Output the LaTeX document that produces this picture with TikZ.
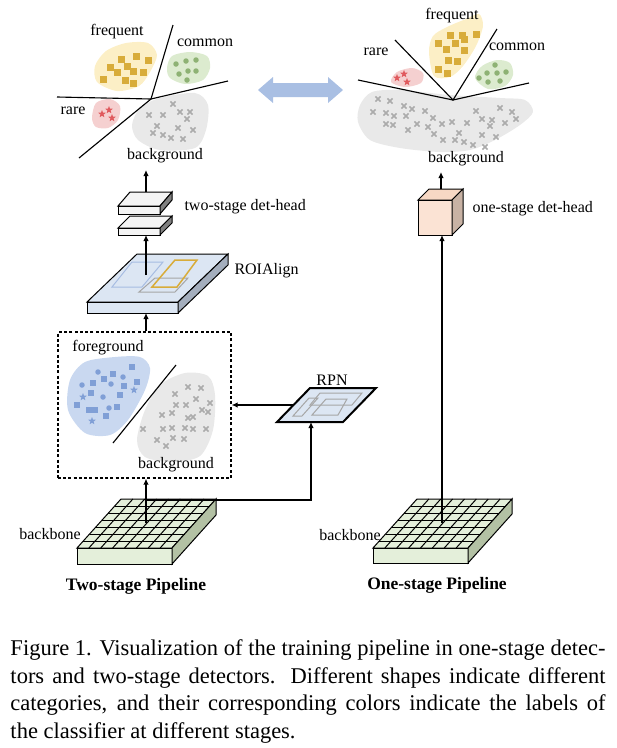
\documentclass[tikz,border=0pt]{standalone}
\usepackage{fontspec}
\setmainfont{Liberation Serif}
\usepackage{tikz}
\usetikzlibrary{arrows.meta}

\definecolor{freqfill}{HTML}{FCEFC6}
\definecolor{freqmark}{HTML}{D8AC3A}
\definecolor{comfill}{HTML}{DCEBCF}
\definecolor{commark}{HTML}{8EB274}
\definecolor{rarefill}{HTML}{F5D0D0}
\definecolor{raremark}{HTML}{E05A5E}
\definecolor{bgfill}{HTML}{E9E9E9}
\definecolor{bgmark}{HTML}{ABABAB}
\definecolor{fgfill}{HTML}{C9D8F0}
\definecolor{fgmark}{HTML}{809FD6}
\definecolor{swapblue}{HTML}{A9BFE3}
\definecolor{roitop}{HTML}{DCE6F3}
\definecolor{roiside}{HTML}{A4AEBD}
\definecolor{headtop}{HTML}{F4F4F4}
\definecolor{headside}{HTML}{808080}
\definecolor{cubetop}{HTML}{F7D8C4}
\definecolor{cubefront}{HTML}{FBE3D4}
\definecolor{cubeside}{HTML}{C8B2A4}
\definecolor{bbtop}{HTML}{E4EFDA}
\definecolor{bbside}{HTML}{B3C1A4}

% x, y, width, thickness, depth x, depth y, top, front, side
\newcommand{\cuboid}[9]{%
  \filldraw[fill=#7] (#1,#2) -- ++(#5,#6) -- ++(#3,0) -- (#1+#3,#2) -- cycle;
  \filldraw[fill=#8] (#1,#2) rectangle ++(#3,#4);
  \filldraw[fill=#9] (#1+#3,#2) -- ++(#5,#6) -- ++(0,#4) -- (#1+#3,#2+#4) -- cycle;}
\newcommand{\bbgrid}[2]{%
  \foreach \i in {1,...,7} \draw (#1+\i*95/8,#2) -- ++(44,-49);
  \foreach \j in {1,...,6} \draw (#1+\j*44/7,#2-\j*49/7) -- ++(95,0);}

\begin{document}
\begin{tikzpicture}[x=0.4pt,y=-0.4pt,
  lbl/.style={font=\fontsize{6.4}{7.5}\selectfont,inner sep=0pt},
  title/.style={font=\fontsize{7}{8}\selectfont\bfseries,inner sep=0pt},
  flow/.style={-{Latex[length=2.4pt,width=2.2pt]},line width=0.5pt},
  sepline/.style={line width=0.45pt},
  cross/.style={draw=bgmark,line width=0.6pt}]
\useasboundingbox (0,0) rectangle (617,748);

% left classifier
\fill[freqfill] plot[smooth cycle] coordinates {(97,82) (95,66) (106,51) (126,43) (148,43) (157,55) (150,72) (139,86) (117,91)};
\fill[comfill] plot[smooth cycle] coordinates {(167,68) (172,56) (190,52) (207,56) (210,68) (203,80) (185,84) (170,78)};
\fill[rarefill] plot[smooth cycle] coordinates {(92,118) (96,103) (110,99) (120,106) (118,120) (108,128) (96,127)};
\fill[bgfill] plot[smooth cycle] coordinates {(132,125) (140,108) (160,98) (195,93) (208,105) (206,130) (195,148) (160,150) (138,140)};
\foreach \x/\y in {136/56,148/60,121/59,127/66,110/67,117/72,133/71,143/72,103/79,125/80,133/83}
  \fill[freqmark] (\x-3.5,\y-3.5) rectangle ++(7,7);
\foreach \x/\y in {176/64,186/61,196/60,179/74,188/71,196/71,187/80}
  \fill[commark] (\x,\y) circle[radius=1.1pt];
\foreach \x/\y in {102/114,109/110,112/118}
  \fill[raremark,shift={(\x,\y)}] (270:4) \foreach \a in {0,...,4} {-- (306+72*\a:1.7) -- (342+72*\a:4)} -- cycle;
\foreach \x/\y in {173/104,149/115,163/115,180/112,190/112,187/119,157/126,178/128,193/130,153/133,163/135,171/138,183/139}
  \draw[cross,shift={(\x,\y)}] (-2.6,-2.6) -- (2.6,2.6) (-2.6,2.6) -- (2.6,-2.6);
\coordinate (cutL) at (151,99);
\draw[sepline] (173,25) -- (cutL) -- (79,158);
\draw[sepline] (57,97) -- (cutL) -- (228,81);
\node[lbl] (freqL) at (117,32) {frequent};
\node[lbl] (comL) at (205,43) {common};
\node[lbl] (rareL) at (73,111) {rare};
\node[lbl] (bgL) at (165,156) {background};

% right classifier
\fill[bgfill] plot[smooth cycle] coordinates {(360,105) (372,92) (400,90) (450,95) (500,98) (525,100) (533,112) (520,125) (495,140) (470,150) (440,152) (400,148) (370,140) (358,122)};
\fill[freqfill] plot[smooth cycle] coordinates {(429,52) (433,36) (447,27) (466,19) (479,14) (483,26) (476,46) (463,66) (450,77) (434,76)};
\fill[comfill] plot[smooth cycle] coordinates {(475,78) (482,66) (497,60) (510,63) (513,75) (505,86) (488,89)};
\fill[rarefill] plot[smooth cycle] coordinates {(391,82) (397,72) (412,68) (423,73) (421,83) (405,87)};
\foreach \x/\y in {450/35,462/35,476/34,438/43,455/43,464/39,446/49,464/50,448/60,457/61,438/69,447/73}
  \fill[freqmark] (\x-3.5,\y-3.5) rectangle ++(7,7);
\foreach \x/\y in {495/65,487/73,497/73,506/72,479/78,488/82,500/81}
  \fill[commark] (\x,\y) circle[radius=1.1pt];
\foreach \x/\y in {397/78,404/74,407/82}
  \fill[raremark,shift={(\x,\y)}] (270:4) \foreach \a in {0,...,4} {-- (306+72*\a:1.7) -- (342+72*\a:4)} -- cycle;
\foreach \x/\y in {378/99,390/101,373/112,386/113,394/116,404/106,412/109,406/116,425/111,386/124,393/125,417/124,408/130,428/127,433/118,442/124,452/122,467/123,476/111,482/119,492/120,500/108,512/112,516/119,505/123,490/126,434/134,443/140,455/140,459/133,464/142,473/145,485/147,482/135,496/137}
  \draw[cross,shift={(\x,\y)}] (-2.6,-2.6) -- (2.6,2.6) (-2.6,2.6) -- (2.6,-2.6);
\coordinate (cutR) at (453,100);
\draw[sepline] (395,40) -- (cutR) -- (497,29);
\draw[sepline] (358,80) -- (cutR) -- (529,83);
\node[lbl] (freqR) at (452,16) {frequent};
\node[lbl] (rareR) at (376,52) {rare};
\node[lbl] (comR) at (517,47) {common};
\node[lbl] (bgR) at (466,159) {background};

\fill[swapblue] (258,90) -- (273,77) -- (273,83) -- (328,83) -- (328,77) -- (343,90) -- (328,103) -- (328,97) -- (273,97) -- (273,103) -- cycle;

% two-stage heads
\cuboid{118}{228}{42}{7}{12}{-12}{headtop}{headtop}{headside}
\cuboid{118}{206}{42}{8}{12}{-14}{headtop}{headtop}{headside}
\node[lbl,anchor=west] (headlbl) at (184,207) {two-stage det-head};
\cuboid{87}{302}{91}{11}{50}{-48}{roitop}{roitop}{roiside}
\draw[draw=fgmark!70,line width=0.4pt] (112,287) -- (132,262) -- (163,262) -- (142,287) -- cycle;
\draw[draw=gray!70,line width=0.4pt] (139,292) -- (155,278) -- (188,278) -- (175,292) -- cycle;
\draw[draw=freqmark,line width=0.6pt] (152,287) -- (175,260) -- (197,260) -- (177,287) -- cycle;
\node[lbl,anchor=west] (roilbl) at (234,271) {ROIAlign};

% proposals
\node[draw,dash pattern=on 1.2pt off 0.9pt,line width=0.5pt,minimum width=69.2pt,minimum height=58.4pt,inner sep=0pt] (fgbox) at (144.5,405) {};
\fill[fgfill] plot[smooth cycle] coordinates {(68,410) (70,380) (85,362) (115,357) (140,357) (150,368) (145,390) (128,420) (110,435) (85,433)};
\fill[bgfill] plot[smooth cycle] coordinates {(137,440) (145,410) (160,385) (185,373) (208,376) (215,395) (213,430) (200,456) (172,462) (145,457)};
\foreach \x/\y in {132/367,113/374,104/379,93/383,137/382,124/386,91/393,120/395,77/405,117/407,106/416}
  \fill[fgmark] (\x-3,\y-3) rectangle ++(6,6);
\fill[fgmark] (86,407) rectangle ++(12,6);
\foreach \x/\y in {98/372,123/377,82/385,111/384,103/397,109/408}
  \fill[fgmark] (\x,\y) circle[radius=1.1pt];
\foreach \x/\y in {83/397,134/390,92/421}
  \fill[fgmark,shift={(\x,\y)}] (270:4) \foreach \a in {0,...,4} {-- (306+72*\a:1.7) -- (342+72*\a:4)} -- cycle;
\foreach \x/\y in {175/394,188/387,201/388,176/405,186/405,196/399,210/403,202/410,208/412,162/415,172/413,188/418,193/417,143/429,163/429,172/428,185/428,193/429,206/429,157/440,166/446,173/438,184/439}
  \draw[cross,shift={(\x,\y)}] (-2.6,-2.6) -- (2.6,2.6) (-2.6,2.6) -- (2.6,-2.6);
\draw[sepline] (113,443) -- (176,365);
\node[lbl] (fglbl) at (108,348) {foreground};
\node[lbl] (fgbglbl) at (176,465) {background};

% rpn
\filldraw[fill=roitop,line width=0.8pt] (277,422) -- (310,388) -- (376,388) -- (343,422) -- cycle;
\draw[draw=gray!70,line width=0.4pt] (293,416) -- (309,398) -- (318,398) -- (302,416) -- cycle;
\draw[draw=gray!70,line width=0.4pt] (310,405) -- (320,393) -- (362,393) -- (352,405) -- cycle;
\draw[draw=gray!70,line width=0.4pt] (312,415) -- (326,399) -- (347,399) -- (338,415) -- cycle;
\node[lbl] (rpnlbl) at (332,380) {RPN};

% one-stage head
\cuboid{418}{200}{34}{35}{11}{-11}{cubetop}{cubefront}{cubeside}
\node[lbl,anchor=west] (onelbl) at (472,209) {one-stage det-head};

% backbones
\cuboid{77}{548}{95}{16}{44}{-49}{bbtop}{bbtop}{bbside}
\bbgrid{77}{548}
\cuboid{373}{548}{95}{15}{44}{-49}{bbtop}{bbtop}{bbside}
\bbgrid{373}{548}
\node[lbl] (bblblL) at (50,534) {backbone};
\node[lbl] (bblblR) at (350,535) {backbone};
\node[title] (twotitle) at (136,586) {Two-stage Pipeline};
\node[title] (onetitle) at (437,585) {One-stage Pipeline};

\coordinate (bbL) at (146,523);
\coordinate (split) at (146,500);
\coordinate (rpnL) at (293,405);
\coordinate (rpnB) at (311,422);
\coordinate (roiB) at (146,313);
\coordinate (roiT) at (146,275);
\coordinate (headB) at (146,235);
\coordinate (headT) at (146,192);
\coordinate (clsL) at (146,170);
\coordinate (bbR) at (442,523);
\coordinate (cubeB) at (442,235);
\coordinate (cubeT) at (441,189);
\coordinate (clsR) at (441,172);
\draw[flow] (bbL) -- (bbL |- fgbox.south);
\draw[flow] (split) -| (rpnB);
\draw[flow] (rpnL) -- (rpnL -| fgbox.east);
\draw[flow] (roiB |- fgbox.north) -- (roiB);
\draw[flow] (roiT) -- (headB);
\draw[flow] (headT) -- (clsL);
\draw[flow] (bbR) -- (cubeB);
\draw[flow] (cubeT) -- (clsR);

\node[anchor=north west,inner sep=0pt,text width=238pt,align=justify,font=\fontsize{9}{11.1}\selectfont] (caption) at (10,639) {Figure 1. Visualization of the training pipeline in one-stage detec-\linebreak tors and two-stage detectors. Different shapes indicate different\linebreak categories, and their corresponding colors indicate the labels of\linebreak the classifier at different stages.};
\end{tikzpicture}
\end{document}
